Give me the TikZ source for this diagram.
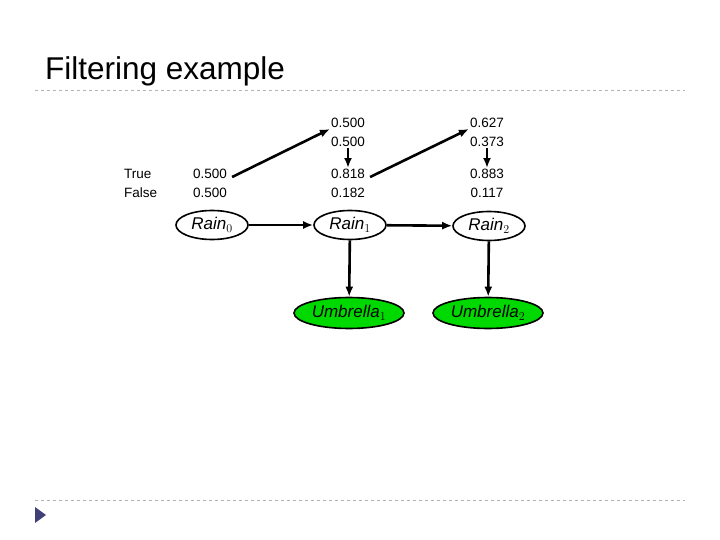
\documentclass[tikz,border=0pt]{standalone}
\usepackage{fontspec}
\setmainfont{Liberation Sans}
\usetikzlibrary{shapes.geometric,arrows.meta}
\tikzset{
  state/.style = {draw, line width=1.6pt, ellipse, minimum width=72pt, minimum height=29pt, inner sep=0pt, font=\fontsize{17}{17}\selectfont},
  obs/.style = {state, fill=green!85!black, minimum width=110pt, minimum height=31pt},
  prob/.style = {font=\fontsize{13.5}{13.5}\selectfont, inner sep=1pt},
  link/.style = {-{Latex[length=10pt,width=8pt]}, line width=2.6pt}
}
\begin{document}
\begin{tikzpicture}[x=1pt, y=-1pt]
        \useasboundingbox (0,0) rectangle (720,540);
        \node[anchor=base west, inner sep=0pt, font=\fontsize{31.5}{31.5}\selectfont] (title) at (45,80) {Filtering example};
        \draw[gray!60, dashed] (35,90) -- (685,90);
        \draw[gray!60, dashed] (35,500) -- (685,500);
        \fill[black!55!blue!50!gray] (35,507) -- (46,515) -- (35,523) -- cycle;

        % network
        \node[state] (r0) at (212,225) {$\mathit{Rain}_0$};
        \node[state] (r1) at (350,225) {$\mathit{Rain}_1$};
        \node[state] (r2) at (489,226) {$\mathit{Rain}_2$};
        \node[obs] (u1) at (349,313) {$\mathit{Umbrella}_1$};
        \node[obs] (u2) at (488,313) {$\mathit{Umbrella}_2$};
        \draw[link] (r0) -- (r1);
        \draw[link] (r1) -- (r2);
        \draw[link] (r1) -- (u1);
        \draw[link] (r2) -- (u2);

        % probabilities
        \node[prob, anchor=west] (lt) at (123,174) {True};
        \node[prob, anchor=west] (lf) at (123,193) {False};
        \node[prob] (t0) at (210,174) {0.500};
        \node[prob] (f0) at (210,193) {0.500};
        \node[prob] (pt1) at (348,123) {0.500};
        \node[prob] (pf1) at (348,142) {0.500};
        \node[prob] (t1) at (348,174) {0.818};
        \node[prob] (f1) at (348,193) {0.182};
        \node[prob] (pt2) at (487,123) {0.627};
        \node[prob] (pf2) at (487,142) {0.373};
        \node[prob] (t2) at (487,174) {0.883};
        \node[prob] (f2) at (487,193) {0.117};
        \draw[link] (f0.north east) ++(4,-10) coordinate (a0) (a0) -- (pt1.south west);
        \draw[link] (f1.north east) ++(4,-10) coordinate (a1) (a1) -- (pt2.south west);
        \draw[link] (pf1.south) -- (t1.north);
        \draw[link] (pf2.south) -- (t2.north);
\end{tikzpicture}
\end{document}
